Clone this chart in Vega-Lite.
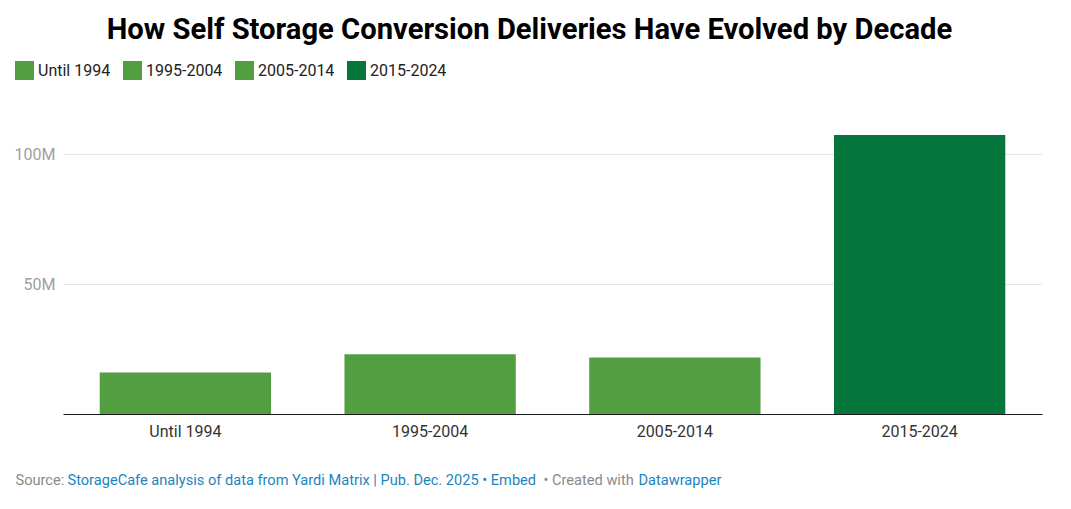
{
  "$schema": "https://vega.github.io/schema/vega-lite/v6.json",
  "width": 979,
  "height": 286,
  "autosize": {"type": "none"},
  "padding": {"left": 63, "top": 128, "right": 29, "bottom": 95},
  "background": "white",
  "config": {
    "font": "Roboto",
    "view": {"stroke": null}
  },
  "title": {
    "text": "How Self Storage Conversion Deliveries Have Evolved by Decade",
    "font": "Roboto",
    "fontSize": 29.2,
    "fontWeight": "bold",
    "color": "#000000",
    "anchor": "middle",
    "frame": "group",
    "dx": -23,
    "offset": 16
  },
  "data": {
    "values": [
      {"decade": "Until 1994", "deliveries": 16000000},
      {"decade": "1995-2004", "deliveries": 23000000},
      {"decade": "2005-2014", "deliveries": 21700000},
      {"decade": "2015-2024", "deliveries": 107300000}
    ]
  },
  "layer": [
    {
      "mark": {"type": "bar"},
      "encoding": {
        "x": {
          "field": "decade",
          "type": "nominal",
          "sort": null,
          "scale": {"paddingInner": 0.3, "paddingOuter": 0.15},
          "axis": {
            "title": "StorageCafe analysis of data from Yardi Matrix | Pub. Dec. 2025 • Embed",
            "titleFont": "Roboto",
            "titleFontSize": 14.6,
            "titleFontWeight": "normal",
            "titleColor": "#1d84c0",
            "titleAlign": "left",
            "titleAnchor": "start",
            "titleBaseline": "middle",
            "titleX": 4,
            "titleY": 66,
            "labelAngle": 0,
            "labelFont": "Roboto",
            "labelFontSize": 16,
            "labelColor": "#333333",
            "labelPadding": 9,
            "ticks": false,
            "domainColor": "#1a1a1a",
            "domainWidth": 1,
            "grid": false
          }
        },
        "y": {
          "field": "deliveries",
          "type": "quantitative",
          "scale": {"domain": [0, 110000000], "nice": false},
          "axis": {
            "values": [50000000, 100000000],
            "format": "~s",
            "title": "Source:",
            "titleFont": "Roboto",
            "titleFontSize": 14.6,
            "titleFontWeight": "normal",
            "titleColor": "#8a8a8a",
            "titleAngle": 0,
            "titleAlign": "left",
            "titleBaseline": "middle",
            "titleX": -48,
            "titleY": 352,
            "labelFont": "Roboto",
            "labelFontSize": 16,
            "labelColor": "#a0a0a0",
            "labelPadding": 8,
            "ticks": false,
            "domain": false,
            "grid": true,
            "gridColor": "#e6e6e6",
            "gridWidth": 1
          }
        },
        "color": {
          "field": "decade",
          "type": "nominal",
          "sort": null,
          "scale": {
            "domain": ["Until 1994", "1995-2004", "2005-2014", "2015-2024"],
            "range": ["#529e40", "#529e40", "#529e40", "#05773c"]
          },
          "legend": {
            "title": null,
            "orient": "none",
            "direction": "horizontal",
            "legendX": -48,
            "legendY": -67,
            "symbolType": "square",
            "symbolSize": 361,
            "symbolStrokeWidth": 0,
            "symbolOpacity": 1,
            "labelFont": "Roboto",
            "labelFontSize": 16,
            "labelColor": "#222222",
            "labelOffset": 4,
            "columnPadding": 12
          }
        }
      }
    },
    {
      "mark": {"type": "bar", "opacity": 0},
      "encoding": {
        "x": {
          "field": "decade",
          "type": "nominal",
          "sort": null,
          "axis": {
            "orient": "top",
            "title": "Datawrapper",
            "titleFont": "Roboto",
            "titleFontSize": 14.6,
            "titleFontWeight": "normal",
            "titleColor": "#1d84c0",
            "titleAlign": "left",
            "titleAnchor": "start",
            "titleBaseline": "middle",
            "titleX": 575,
            "titleY": 352,
            "labels": false,
            "ticks": false,
            "domain": false,
            "grid": false
          }
        },
        "y": {
          "field": "deliveries",
          "type": "quantitative",
          "scale": {"domain": [0, 110000000], "nice": false},
          "axis": {
            "orient": "right",
            "title": "• Created with",
            "titleFont": "Roboto",
            "titleFontSize": 14.6,
            "titleFontWeight": "normal",
            "titleColor": "#8a8a8a",
            "titleAngle": 0,
            "titleAlign": "left",
            "titleBaseline": "middle",
            "titleX": -499,
            "titleY": 352,
            "labels": false,
            "ticks": false,
            "domain": false,
            "grid": false
          }
        }
      }
    }
  ],
  "resolve": {"scale": {"x": "independent", "y": "independent"}}
}
